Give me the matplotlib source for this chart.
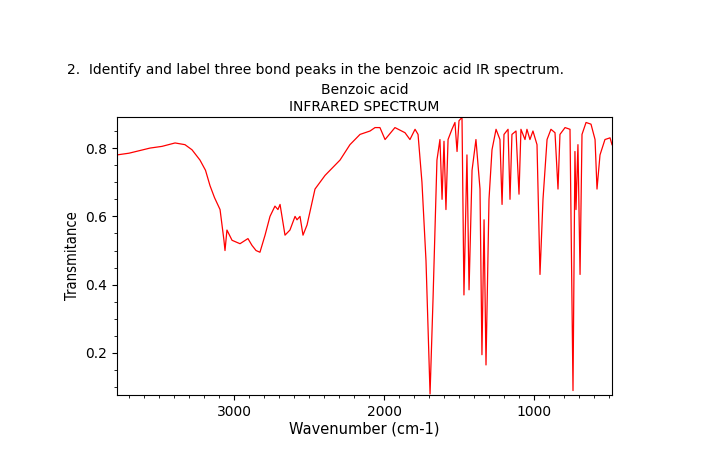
import matplotlib
matplotlib.use("Agg")
import matplotlib.pyplot as plt
from matplotlib.ticker import MultipleLocator

wavenumber = [3780,3700,3560,3480,3393,3327,3280,3227,3190,3160,3130,3093,3067,3060,3047,3013,2960,2907,2880,2853,2827,2793,2760,2727,2707,2693,2660,2627,2593,2580,2560,2540,2513,2460,2393,2293,2227,2160,2093,2060,2027,1993,1927,1860,1827,1793,1773,1747,1720,1693,1673,1647,1627,1613,1600,1587,1573,1547,1527,1513,1500,1480,1467,1447,1433,1413,1387,1360,1347,1333,1320,1300,1280,1253,1227,1213,1200,1173,1160,1147,1120,1100,1087,1060,1047,1027,1007,980,960,940,913,887,860,840,827,793,760,740,727,720,707,693,680,653,620,593,580,560,527,493,480]
transmittance = [0.78,0.785,0.80,0.805,0.815,0.81,0.795,0.765,0.735,0.69,0.655,0.62,0.53,0.50,0.56,0.53,0.52,0.535,0.515,0.50,0.495,0.545,0.60,0.63,0.62,0.635,0.545,0.56,0.60,0.59,0.60,0.545,0.575,0.68,0.72,0.765,0.81,0.84,0.85,0.86,0.86,0.825,0.86,0.845,0.825,0.855,0.84,0.70,0.47,0.08,0.36,0.765,0.825,0.65,0.82,0.62,0.825,0.855,0.875,0.79,0.88,0.89,0.37,0.78,0.385,0.735,0.825,0.68,0.195,0.59,0.165,0.65,0.795,0.855,0.825,0.635,0.84,0.855,0.65,0.84,0.85,0.665,0.855,0.825,0.855,0.825,0.85,0.81,0.43,0.65,0.825,0.855,0.845,0.68,0.84,0.86,0.855,0.09,0.79,0.62,0.81,0.43,0.84,0.875,0.87,0.825,0.68,0.78,0.825,0.83,0.81]
x_ticks = [3000, 2000, 1000]
y_ticks = [0.2, 0.4, 0.6, 0.8]

fig = plt.figure(figsize=(7.01, 4.67), dpi=100)
ax = fig.add_axes([117/701, 1-395/467, (612-117)/701, (395-117)/467])
ax.plot(wavenumber, transmittance, color="red", lw=0.9)
ax.set_xlim(3780, 480)
ax.set_ylim(0.077, 0.891)
ax.set_xticks(x_ticks)
ax.set_yticks(y_ticks)
ax.xaxis.set_minor_locator(MultipleLocator(100))
ax.yaxis.set_minor_locator(MultipleLocator(0.05))
ax.tick_params(labelsize=10)
ax.set_xlabel("Wavenumber (cm-1)", fontsize=10.5, labelpad=2)
ax.set_ylabel("Transmitance", fontsize=10.5, fontstretch="condensed", family="Liberation Sans Narrow")
ax.set_title("Benzoic acid\nINFRARED SPECTRUM", fontsize=10, pad=4, linespacing=1.3)
fig.text(67/701, 1-70/467, "2.  Identify and label three bond peaks in the benzoic acid IR spectrum.",
         fontsize=10, va="center", ha="left")
fig.savefig("out.png", dpi=100)
